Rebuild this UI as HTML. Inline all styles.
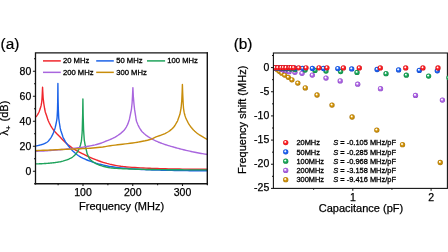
<!DOCTYPE html>
<html><head><meta charset="utf-8"><title>figure</title>
<style>
html,body{margin:0;padding:0;background:#fff;}
body{width:448px;height:252px;overflow:hidden;}
svg{display:block;}
text{font-family:"Liberation Sans", Arial, sans-serif;fill:#000;stroke:#000;stroke-width:0.25px;}
.tk{font-size:10.5px;}
.lb{font-size:11px;}
.pn{font-size:15.4px;stroke-width:0.2px;}
.lg{font-size:7.45px;stroke-width:0.3px;}
.cv{fill:none;stroke-width:1.4;stroke-linejoin:round;stroke-linecap:butt;}
.ax{stroke:#141414;fill:none;}
</style></head><body>
<svg width="448" height="252" viewBox="0 0 448 252">
<defs>
<radialGradient id="gR" cx="0.5" cy="0.5" r="0.5" fx="0.37" fy="0.33"><stop offset="0" stop-color="#fff"/><stop offset="0.17" stop-color="#fff"/><stop offset="0.36" stop-color="#ff7070"/><stop offset="0.55" stop-color="#f41c22"/><stop offset="0.8" stop-color="#f41c22"/><stop offset="1" stop-color="#cc0c12"/></radialGradient>
<radialGradient id="gB" cx="0.5" cy="0.5" r="0.5" fx="0.37" fy="0.33"><stop offset="0" stop-color="#fff"/><stop offset="0.17" stop-color="#fff"/><stop offset="0.36" stop-color="#7aa8ff"/><stop offset="0.55" stop-color="#1a5ce8"/><stop offset="0.8" stop-color="#1a5ce8"/><stop offset="1" stop-color="#0c40c0"/></radialGradient>
<radialGradient id="gG" cx="0.5" cy="0.5" r="0.5" fx="0.37" fy="0.33"><stop offset="0" stop-color="#fff"/><stop offset="0.17" stop-color="#fff"/><stop offset="0.36" stop-color="#70d4a0"/><stop offset="0.55" stop-color="#18a055"/><stop offset="0.8" stop-color="#18a055"/><stop offset="1" stop-color="#0c7c3c"/></radialGradient>
<radialGradient id="gP" cx="0.5" cy="0.5" r="0.5" fx="0.37" fy="0.33"><stop offset="0" stop-color="#fff"/><stop offset="0.17" stop-color="#fff"/><stop offset="0.36" stop-color="#d8b4f4"/><stop offset="0.55" stop-color="#a860de"/><stop offset="0.8" stop-color="#a860de"/><stop offset="1" stop-color="#8440c0"/></radialGradient>
<radialGradient id="gO" cx="0.5" cy="0.5" r="0.5" fx="0.37" fy="0.33"><stop offset="0" stop-color="#fff"/><stop offset="0.17" stop-color="#fff"/><stop offset="0.36" stop-color="#f0c868"/><stop offset="0.55" stop-color="#c88c0a"/><stop offset="0.8" stop-color="#c88c0a"/><stop offset="1" stop-color="#a06c02"/></radialGradient>
<clipPath id="ca"><rect x="35.5" y="53" width="172" height="130.6"/></clipPath>
<clipPath id="cb"><rect x="273.4" y="53" width="174" height="135.4"/></clipPath>
</defs>
<rect width="448" height="252" fill="#fff"/>
<text class="pn" x="0.5" y="48.9">(a)</text>
<g clip-path="url(#ca)">
<path class="cv" stroke="#f0262c" d="M35.50,117.00 L35.62,116.93 L35.74,116.85 L35.86,116.76 L35.98,116.66 L36.10,116.55 L36.22,116.43 L36.34,116.31 L36.46,116.17 L36.58,116.03 L36.70,115.88 L36.82,115.73 L36.94,115.56 L37.06,115.40 L37.18,115.22 L37.30,115.04 L37.42,114.86 L37.54,114.67 L37.66,114.47 L37.78,114.28 L37.90,114.08 L38.02,113.87 L38.14,113.66 L38.26,113.45 L38.38,113.24 L38.40,113.20 L38.50,113.02 L38.62,112.79 L38.74,112.54 L38.86,112.28 L38.98,112.01 L39.09,111.72 L39.21,111.42 L39.33,111.11 L39.45,110.79 L39.57,110.46 L39.69,110.12 L39.81,109.77 L39.93,109.42 L40.05,109.05 L40.17,108.68 L40.20,108.60 L40.29,108.31 L40.41,107.94 L40.53,107.57 L40.65,107.19 L40.77,106.79 L40.89,106.36 L41.01,105.90 L41.13,105.39 L41.25,104.84 L41.37,104.23 L41.49,103.55 L41.50,103.50 L41.61,102.74 L41.73,101.71 L41.85,100.48 L41.97,99.05 L42.05,98.00 L42.09,97.38 L42.21,95.03 L42.33,92.41 L42.35,92.00 L42.45,89.89 L42.57,87.30 L42.80,92.00 L43.15,98.00 L43.80,103.50 L44.60,108.50 L45.30,112.00 L45.37,112.24 L46.70,116.00 L47.80,119.60 L48.16,120.53 L49.30,123.00 L50.96,126.04 L51.90,127.60 L53.60,130.20 L53.75,130.39 L56.55,133.48 L59.34,136.24 L59.40,136.30 L62.14,139.18 L64.93,142.00 L65.70,142.70 L67.73,144.46 L70.52,146.67 L72.10,147.80 L73.32,148.61 L76.12,150.32 L78.40,151.60 L78.91,151.88 L81.71,153.30 L84.50,154.65 L84.80,154.80 L87.30,156.04 L90.00,157.30 L90.09,157.34 L92.89,158.53 L95.68,159.68 L98.48,160.76 L101.27,161.74 L103.00,162.30 L104.07,162.63 L106.86,163.44 L109.66,164.17 L112.46,164.79 L112.50,164.80 L115.25,165.34 L118.05,165.85 L120.84,166.30 L123.64,166.66 L125.00,166.80 L126.43,166.93 L129.23,167.16 L132.02,167.37 L134.82,167.56 L137.61,167.72 L140.41,167.88 L143.21,168.01 L146.00,168.14 L148.80,168.25 L150.00,168.30 L151.59,168.36 L154.39,168.46 L157.18,168.56 L159.98,168.65 L162.77,168.73 L165.57,168.81 L168.36,168.88 L171.16,168.94 L173.95,168.98 L175.00,169.00 L176.75,169.02 L179.55,169.06 L182.34,169.10 L185.14,169.14 L187.93,169.17 L190.73,169.20 L193.52,169.23 L196.32,169.25 L199.11,169.27 L201.91,169.29 L204.70,169.30 L207.50,169.30"/>
<path class="cv" stroke="#1c63e8" d="M35.50,146.00 L35.88,145.95 L36.26,145.90 L36.64,145.83 L37.02,145.77 L37.40,145.69 L37.78,145.61 L38.16,145.53 L38.54,145.44 L38.92,145.35 L39.30,145.25 L39.68,145.15 L40.06,145.05 L40.44,144.94 L40.82,144.83 L41.19,144.72 L41.57,144.61 L41.60,144.60 L41.95,144.49 L42.33,144.37 L42.71,144.25 L43.09,144.11 L43.47,143.98 L43.85,143.83 L44.23,143.67 L44.61,143.51 L44.99,143.34 L45.37,143.15 L45.75,142.95 L46.13,142.74 L46.51,142.52 L46.70,142.40 L46.89,142.27 L47.27,141.99 L47.65,141.67 L48.03,141.31 L48.41,140.91 L48.79,140.49 L49.17,140.04 L49.55,139.57 L49.93,139.07 L50.31,138.56 L50.50,138.30 L50.69,138.04 L51.07,137.46 L51.45,136.84 L51.83,136.16 L52.21,135.44 L52.58,134.68 L52.96,133.88 L53.00,133.80 L53.34,133.00 L53.72,132.01 L54.10,130.96 L54.30,130.40 L54.48,129.87 L54.86,128.71 L55.10,127.90 L55.24,127.36 L55.62,125.78 L56.00,123.99 L56.20,123.00 L56.38,122.12 L56.76,120.11 L57.00,118.30 L57.14,116.78 L57.50,110.00 L57.52,109.43 L57.72,100.00 L57.90,83.40 L58.10,100.00 L58.35,110.00 L58.75,118.30 L59.40,123.00 L60.20,127.90 L60.44,129.02 L60.80,130.50 L62.97,137.08 L63.20,137.60 L65.51,141.80 L67.00,144.00 L68.04,145.45 L70.58,148.64 L72.10,150.30 L73.11,151.32 L75.65,153.60 L77.20,154.80 L78.18,155.49 L80.72,157.06 L82.30,157.90 L83.26,158.36 L85.79,159.48 L88.33,160.48 L90.00,161.10 L90.86,161.41 L93.40,162.30 L95.93,163.14 L98.47,163.89 L100.00,164.30 L101.01,164.55 L103.54,165.16 L106.08,165.72 L108.61,166.23 L111.15,166.67 L112.00,166.80 L113.68,167.04 L116.22,167.38 L118.75,167.68 L121.29,167.96 L123.83,168.20 L125.00,168.30 L126.36,168.42 L128.90,168.63 L131.43,168.83 L133.97,169.03 L136.50,169.21 L139.04,169.38 L141.57,169.54 L144.11,169.67 L146.65,169.79 L149.18,169.88 L150.00,169.90 L151.72,169.95 L154.25,170.01 L156.79,170.08 L159.32,170.14 L161.86,170.20 L164.39,170.26 L166.93,170.32 L169.47,170.37 L172.00,170.42 L174.54,170.47 L177.07,170.52 L179.61,170.56 L182.14,170.60 L184.68,170.64 L187.22,170.67 L189.75,170.70 L192.29,170.73 L194.82,170.75 L197.36,170.77 L199.89,170.78 L202.43,170.79 L204.96,170.80 L207.50,170.80"/>
<path class="cv" stroke="#1fa35c" d="M35.50,163.90 L36.30,163.89 L37.11,163.87 L37.91,163.85 L38.71,163.83 L39.52,163.80 L40.32,163.76 L41.12,163.72 L41.93,163.68 L42.73,163.64 L43.53,163.60 L44.34,163.55 L45.14,163.50 L45.94,163.45 L46.70,163.40 L46.75,163.40 L47.55,163.34 L48.35,163.28 L49.16,163.22 L49.96,163.15 L50.76,163.07 L51.57,162.99 L52.37,162.90 L53.17,162.81 L53.98,162.71 L54.78,162.60 L55.58,162.49 L56.39,162.38 L57.19,162.26 L57.99,162.13 L58.80,162.00 L59.40,161.90 L59.60,161.86 L60.41,161.71 L61.21,161.54 L62.01,161.35 L62.82,161.14 L63.62,160.91 L64.42,160.67 L65.23,160.41 L66.03,160.14 L66.83,159.86 L67.00,159.80 L67.64,159.56 L68.44,159.24 L69.24,158.88 L70.05,158.48 L70.85,158.05 L71.65,157.58 L72.10,157.30 L72.46,157.06 L73.26,156.47 L74.06,155.78 L74.87,155.01 L75.67,154.16 L75.90,153.90 L76.47,153.19 L77.28,152.04 L78.08,150.69 L78.40,150.10 L78.88,149.15 L79.69,147.29 L80.40,145.20 L80.49,144.90 L81.29,141.48 L81.55,139.80 L82.10,133.00 L82.25,130.00 L82.65,115.00 L82.90,98.90 L83.15,115.00 L83.60,130.00 L84.25,139.80 L85.01,144.34 L85.50,146.50 L87.12,153.58 L87.30,154.10 L89.24,158.27 L90.00,159.30 L91.35,160.64 L93.46,162.23 L95.57,163.41 L96.25,163.75 L97.68,164.41 L99.79,165.26 L101.91,165.95 L103.00,166.25 L104.02,166.51 L106.13,167.03 L108.24,167.48 L110.35,167.83 L112.00,168.00 L112.47,168.04 L114.58,168.19 L116.69,168.33 L118.80,168.46 L120.91,168.59 L123.03,168.70 L125.14,168.80 L127.25,168.90 L129.36,168.99 L131.47,169.07 L133.58,169.14 L135.70,169.21 L137.81,169.27 L139.92,169.32 L142.03,169.37 L144.14,169.41 L146.26,169.45 L148.37,169.48 L150.00,169.50 L150.48,169.51 L152.59,169.53 L154.70,169.56 L156.82,169.58 L158.93,169.61 L161.04,169.63 L163.15,169.65 L165.26,169.67 L167.37,169.69 L169.49,169.71 L171.60,169.73 L173.71,169.75 L175.82,169.77 L177.93,169.78 L180.05,169.80 L182.16,169.81 L184.27,169.83 L186.38,169.84 L188.49,169.85 L190.61,169.86 L192.72,169.87 L194.83,169.88 L196.94,169.88 L199.05,169.89 L201.16,169.89 L203.28,169.90 L205.39,169.90 L207.50,169.90"/>
<path class="cv" stroke="#a966de" d="M35.50,151.25 L37.15,151.21 L38.80,151.16 L40.45,151.09 L42.10,151.02 L43.75,150.94 L45.41,150.85 L47.06,150.75 L48.71,150.64 L50.36,150.53 L52.01,150.41 L53.66,150.28 L55.31,150.14 L56.96,150.00 L58.61,149.86 L60.26,149.71 L61.91,149.55 L63.56,149.39 L65.22,149.23 L66.87,149.06 L68.52,148.89 L70.17,148.72 L71.82,148.54 L73.47,148.36 L75.00,148.20 L75.12,148.19 L76.77,148.00 L78.42,147.79 L80.07,147.56 L81.72,147.32 L83.37,147.07 L85.03,146.79 L86.68,146.51 L88.33,146.21 L89.98,145.90 L90.00,145.90 L91.63,145.58 L93.28,145.23 L94.93,144.86 L96.58,144.45 L98.23,144.01 L99.88,143.54 L100.00,143.50 L101.53,142.97 L103.18,142.31 L104.84,141.61 L106.30,141.00 L106.49,140.93 L108.14,140.29 L109.79,139.66 L111.44,138.98 L112.70,138.40 L113.09,138.21 L114.74,137.33 L116.39,136.35 L118.04,135.27 L119.00,134.60 L119.69,134.10 L121.34,132.84 L122.99,131.37 L124.10,130.20 L124.65,129.53 L126.30,127.01 L127.30,125.10 L127.95,123.65 L129.20,120.00 L129.60,118.42 L130.60,113.50 L131.25,110.35 L131.50,108.80 L132.10,103.00 L132.50,96.00 L132.90,87.60 L133.30,96.00 L133.90,103.00 L134.16,105.75 L134.60,109.70 L135.43,114.95 L135.50,115.40 L136.20,120.00 L136.69,121.75 L137.96,124.80 L138.10,125.10 L139.22,127.32 L140.49,129.48 L141.75,131.22 L141.90,131.40 L143.02,132.61 L144.28,133.79 L145.54,134.82 L146.81,135.76 L147.00,135.90 L148.07,136.65 L149.34,137.47 L150.60,138.23 L151.87,138.94 L153.13,139.61 L153.30,139.70 L154.39,140.25 L155.66,140.86 L156.92,141.43 L158.19,141.98 L159.45,142.49 L160.00,142.70 L160.72,142.97 L161.98,143.44 L163.25,143.88 L164.51,144.32 L165.77,144.74 L167.04,145.15 L168.30,145.55 L169.57,145.93 L170.83,146.31 L172.10,146.68 L173.36,147.04 L174.63,147.40 L175.00,147.50 L175.89,147.75 L177.15,148.09 L178.42,148.42 L179.68,148.76 L180.95,149.08 L182.21,149.40 L183.48,149.71 L184.74,150.01 L186.01,150.31 L187.27,150.61 L188.53,150.89 L189.80,151.17 L191.06,151.45 L192.33,151.71 L192.50,151.75 L193.59,151.98 L194.86,152.23 L196.12,152.48 L197.38,152.73 L198.65,152.97 L199.91,153.21 L201.18,153.44 L202.44,153.66 L203.71,153.88 L204.97,154.09 L206.24,154.30 L207.50,154.50"/>
<path class="cv" stroke="#c88d0b" d="M35.50,150.60 L37.99,150.50 L40.48,150.40 L42.97,150.29 L45.46,150.19 L47.95,150.08 L50.44,149.98 L52.93,149.87 L55.42,149.77 L57.91,149.66 L60.40,149.55 L62.89,149.44 L65.38,149.33 L67.87,149.22 L70.36,149.11 L72.85,149.00 L75.00,148.90 L75.34,148.88 L77.83,148.78 L80.32,148.68 L82.81,148.57 L85.30,148.46 L87.79,148.33 L90.00,148.20 L90.28,148.18 L92.77,148.00 L95.26,147.79 L97.75,147.54 L100.00,147.30 L100.24,147.27 L102.73,146.95 L105.22,146.57 L107.71,146.16 L110.19,145.76 L112.68,145.40 L112.70,145.40 L115.17,145.09 L117.66,144.80 L120.15,144.52 L122.64,144.24 L125.13,143.93 L125.40,143.90 L127.62,143.61 L130.11,143.29 L132.60,142.95 L135.09,142.59 L137.58,142.19 L138.10,142.10 L140.07,141.76 L142.56,141.30 L145.05,140.80 L147.54,140.22 L150.03,139.53 L150.80,139.30 L152.52,138.60 L155.01,137.34 L156.00,136.90 L157.50,136.35 L159.99,135.54 L162.30,134.70 L162.48,134.63 L164.97,133.54 L167.46,132.25 L168.70,131.50 L169.95,130.63 L172.44,128.47 L173.80,127.00 L174.93,125.51 L177.42,121.08 L177.60,120.70 L179.90,114.30 L179.91,114.26 L181.10,108.00 L181.80,100.00 L182.15,92.00 L182.40,84.40 L182.65,92.00 L182.83,96.33 L183.00,100.00 L183.25,104.64 L183.50,108.00 L183.68,109.46 L184.10,112.14 L184.53,114.02 L184.60,114.30 L184.95,115.53 L185.38,116.81 L185.80,117.91 L186.23,118.89 L186.65,119.79 L187.08,120.66 L187.10,120.70 L187.51,121.51 L187.93,122.33 L188.36,123.10 L188.78,123.84 L189.21,124.55 L189.63,125.22 L190.06,125.85 L190.48,126.45 L190.90,127.00 L190.91,127.01 L191.33,127.55 L191.76,128.06 L192.18,128.56 L192.61,129.04 L193.04,129.50 L193.46,129.95 L193.89,130.38 L194.31,130.79 L194.74,131.20 L195.16,131.58 L195.59,131.96 L196.01,132.32 L196.44,132.67 L196.60,132.80 L196.86,133.01 L197.29,133.34 L197.72,133.65 L198.14,133.96 L198.57,134.25 L198.99,134.54 L199.42,134.82 L199.84,135.09 L200.27,135.36 L200.69,135.62 L201.12,135.88 L201.54,136.13 L201.97,136.39 L202.39,136.64 L202.82,136.89 L203.00,137.00 L203.25,137.15 L203.67,137.40 L204.10,137.64 L204.52,137.89 L204.95,138.13 L205.37,138.37 L205.80,138.60 L206.22,138.83 L206.65,139.06 L207.07,139.28 L207.50,139.50"/>
</g>
<path class="ax" stroke-width="1.3" stroke-linecap="square" d="M35.5,183.8 V52.9 H207.3"/>
<path class="ax" stroke-width="1.5" stroke-linecap="square" d="M35.5,183.8 H207.3"/>
<path class="ax" stroke-width="1.4" stroke-linecap="square" d="M207.3,183.8 V52.9"/>
<path class="ax" stroke-width="1.1" d="M83.00,183.8 v2.2 M132.75,183.8 v2.2 M182.50,183.8 v2.2 M58.12,183.8 v1.5 M107.88,183.8 v1.5 M157.62,183.8 v1.5 M207.38,183.8 v1.5 M35.5,171.20 h-2.6 M35.5,146.20 h-2.6 M35.5,121.20 h-2.6 M35.5,96.20 h-2.6 M35.5,71.20 h-2.6 M35.5,183.70 h-1.5 M35.5,158.70 h-1.5 M35.5,133.70 h-1.5 M35.5,108.70 h-1.5 M35.5,83.70 h-1.5 M35.5,58.70 h-1.5 "/>
<text class="tk" x="83.00" y="196.4" text-anchor="middle">100</text>
<text class="tk" x="132.75" y="196.4" text-anchor="middle">200</text>
<text class="tk" x="182.50" y="196.4" text-anchor="middle">300</text>
<text class="tk" x="31.3" y="174.70" text-anchor="end">0</text>
<text class="tk" x="31.3" y="149.70" text-anchor="end">20</text>
<text class="tk" x="31.3" y="124.70" text-anchor="end">40</text>
<text class="tk" x="31.3" y="99.70" text-anchor="end">60</text>
<text class="tk" x="31.3" y="74.70" text-anchor="end">80</text>
<text class="lb" x="121.6" y="209.6" text-anchor="middle">Frequency (MHz)</text>
<text class="lb" transform="translate(8.3,118.1) rotate(-90)" text-anchor="middle">λ<tspan font-size="7.5" dy="3.1">+</tspan><tspan dy="-3.1" dx="1.2"> (dB)</tspan></text>
<line x1="43" y1="60.9" x2="60.8" y2="60.9" stroke="#f0262c" stroke-width="1.5"/>
<text class="lg" style="font-size:7.65px" x="63" y="63.35">20 MHz</text>
<line x1="96.2" y1="60.9" x2="113.8" y2="60.9" stroke="#1c63e8" stroke-width="1.5"/>
<text class="lg" style="font-size:7.65px" x="116.2" y="63.35">50 MHz</text>
<line x1="147" y1="60.9" x2="165.1" y2="60.9" stroke="#1fa35c" stroke-width="1.5"/>
<text class="lg" style="font-size:7.65px" x="167.3" y="63.35">100 MHz</text>
<line x1="43" y1="72.35" x2="60.8" y2="72.35" stroke="#a966de" stroke-width="1.5"/>
<text class="lg" style="font-size:7.65px" x="63" y="74.80">200 MHz</text>
<line x1="96.2" y1="72.35" x2="113.8" y2="72.35" stroke="#c88d0b" stroke-width="1.5"/>
<text class="lg" style="font-size:7.65px" x="116.2" y="74.80">300 MHz</text>
<text class="pn" x="233.7" y="48.9">(b)</text>
<g clip-path="url(#cb)">
<circle cx="275.2" cy="68.3" r="2.65" fill="url(#gO)"/>
<circle cx="277.5" cy="69.8" r="2.65" fill="url(#gO)"/>
<circle cx="279.7" cy="71.5" r="2.65" fill="url(#gO)"/>
<circle cx="281.9" cy="73.2" r="2.65" fill="url(#gO)"/>
<circle cx="284.7" cy="75.1" r="2.65" fill="url(#gO)"/>
<circle cx="288.3" cy="77.3" r="2.65" fill="url(#gO)"/>
<circle cx="291.9" cy="79.8" r="2.65" fill="url(#gO)"/>
<circle cx="297.8" cy="83.1" r="2.65" fill="url(#gO)"/>
<circle cx="305.3" cy="87.9" r="2.65" fill="url(#gO)"/>
<circle cx="317.05" cy="95" r="2.65" fill="url(#gO)"/>
<circle cx="332" cy="105.1" r="2.65" fill="url(#gO)"/>
<circle cx="352.1" cy="117" r="2.65" fill="url(#gO)"/>
<circle cx="376.8" cy="130.1" r="2.65" fill="url(#gO)"/>
<circle cx="402.5" cy="144.7" r="2.65" fill="url(#gO)"/>
<circle cx="440.25" cy="162.5" r="2.65" fill="url(#gO)"/>
<circle cx="275.2" cy="67.9" r="2.65" fill="url(#gP)"/>
<circle cx="277.7" cy="68.4" r="2.65" fill="url(#gP)"/>
<circle cx="280.9" cy="69.2" r="2.65" fill="url(#gP)"/>
<circle cx="283.4" cy="69.9" r="2.65" fill="url(#gP)"/>
<circle cx="286" cy="70.7" r="2.65" fill="url(#gP)"/>
<circle cx="289.1" cy="71.7" r="2.65" fill="url(#gP)"/>
<circle cx="294.9" cy="72.3" r="2.65" fill="url(#gP)"/>
<circle cx="302" cy="73.3" r="2.65" fill="url(#gP)"/>
<circle cx="312.3" cy="75.1" r="2.65" fill="url(#gP)"/>
<circle cx="326" cy="78.1" r="2.65" fill="url(#gP)"/>
<circle cx="340.2" cy="80.9" r="2.65" fill="url(#gP)"/>
<circle cx="357.7" cy="84.2" r="2.65" fill="url(#gP)"/>
<circle cx="380.5" cy="88.7" r="2.65" fill="url(#gP)"/>
<circle cx="415.5" cy="95.4" r="2.65" fill="url(#gP)"/>
<circle cx="442.4" cy="100.1" r="2.65" fill="url(#gP)"/>
<circle cx="275.2" cy="67.7" r="2.65" fill="url(#gG)"/>
<circle cx="278" cy="67.9" r="2.65" fill="url(#gG)"/>
<circle cx="281" cy="68.2" r="2.65" fill="url(#gG)"/>
<circle cx="284" cy="68.5" r="2.65" fill="url(#gG)"/>
<circle cx="287" cy="68.8" r="2.65" fill="url(#gG)"/>
<circle cx="290.5" cy="69.1" r="2.65" fill="url(#gG)"/>
<circle cx="295" cy="69.5" r="2.65" fill="url(#gG)"/>
<circle cx="305.1" cy="70" r="2.65" fill="url(#gG)"/>
<circle cx="315" cy="70.4" r="2.65" fill="url(#gG)"/>
<circle cx="326" cy="71" r="2.65" fill="url(#gG)"/>
<circle cx="340.6" cy="71.6" r="2.65" fill="url(#gG)"/>
<circle cx="357" cy="72.4" r="2.65" fill="url(#gG)"/>
<circle cx="386" cy="73.7" r="2.65" fill="url(#gG)"/>
<circle cx="406.3" cy="75.2" r="2.65" fill="url(#gG)"/>
<circle cx="428.6" cy="76.1" r="2.65" fill="url(#gG)"/>
<circle cx="275" cy="67.7" r="2.65" fill="url(#gB)"/>
<circle cx="277.5" cy="67.8" r="2.65" fill="url(#gB)"/>
<circle cx="280.5" cy="67.9" r="2.65" fill="url(#gB)"/>
<circle cx="283.5" cy="68" r="2.65" fill="url(#gB)"/>
<circle cx="286.5" cy="68" r="2.65" fill="url(#gB)"/>
<circle cx="290" cy="68.1" r="2.65" fill="url(#gB)"/>
<circle cx="295" cy="68.2" r="2.65" fill="url(#gB)"/>
<circle cx="302.5" cy="68.3" r="2.65" fill="url(#gB)"/>
<circle cx="312.4" cy="68.4" r="2.65" fill="url(#gB)"/>
<circle cx="323.5" cy="68.5" r="2.65" fill="url(#gB)"/>
<circle cx="337.8" cy="68.6" r="2.65" fill="url(#gB)"/>
<circle cx="351.7" cy="68.9" r="2.65" fill="url(#gB)"/>
<circle cx="377.1" cy="69.5" r="2.65" fill="url(#gB)"/>
<circle cx="398.6" cy="69.9" r="2.65" fill="url(#gB)"/>
<circle cx="419.3" cy="70.4" r="2.65" fill="url(#gB)"/>
<circle cx="437.3" cy="70.8" r="2.65" fill="url(#gB)"/>
<circle cx="275.2" cy="67.7" r="2.65" fill="url(#gR)"/>
<circle cx="277.7" cy="67.7" r="2.65" fill="url(#gR)"/>
<circle cx="280.9" cy="67.7" r="2.65" fill="url(#gR)"/>
<circle cx="283.4" cy="67.7" r="2.65" fill="url(#gR)"/>
<circle cx="286" cy="67.7" r="2.65" fill="url(#gR)"/>
<circle cx="289.1" cy="67.7" r="2.65" fill="url(#gR)"/>
<circle cx="291" cy="67.7" r="2.65" fill="url(#gR)"/>
<circle cx="293.6" cy="67.7" r="2.65" fill="url(#gR)"/>
<circle cx="298.7" cy="67.8" r="2.65" fill="url(#gR)"/>
<circle cx="306" cy="67.8" r="2.65" fill="url(#gR)"/>
<circle cx="319" cy="67.8" r="2.65" fill="url(#gR)"/>
<circle cx="326.9" cy="67.8" r="2.65" fill="url(#gR)"/>
<circle cx="343.4" cy="67.9" r="2.65" fill="url(#gR)"/>
<circle cx="359.3" cy="67.9" r="2.65" fill="url(#gR)"/>
<circle cx="380.3" cy="67.9" r="2.65" fill="url(#gR)"/>
<circle cx="405.7" cy="67.9" r="2.65" fill="url(#gR)"/>
<circle cx="422.9" cy="67.9" r="2.65" fill="url(#gR)"/>
<circle cx="438" cy="68" r="2.65" fill="url(#gR)"/>
</g>
<rect class="ax" x="273.4" y="53.0" width="174.0" height="135.4" stroke-width="1.1" stroke="#2a2a2a"/>
<circle cx="448.9" cy="77.8" r="2.65" fill="url(#gG)"/>
<path class="ax" stroke-width="1" stroke="#2a2a2a" d="M352.80,188.4 v2.4 M431.10,188.4 v2.4 M313.65,188.4 v1.4 M391.95,188.4 v1.4 M273.4,67.60 h-2.4 M273.4,91.76 h-2.4 M273.4,115.92 h-2.4 M273.4,140.08 h-2.4 M273.4,164.24 h-2.4 M273.4,188.40 h-2.4 M273.4,55.52 h-1.4 M273.4,79.68 h-1.4 M273.4,103.84 h-1.4 M273.4,128.00 h-1.4 M273.4,152.16 h-1.4 M273.4,176.32 h-1.4 "/>
<text class="tk" x="352.80" y="201.1" text-anchor="middle">1</text>
<text class="tk" x="431.10" y="201.1" text-anchor="middle">2</text>
<text class="tk" x="269.3" y="70.80" text-anchor="end">0</text>
<text class="tk" x="269.3" y="94.86" text-anchor="end">-5</text>
<text class="tk" x="269.3" y="118.62" text-anchor="end">-10</text>
<text class="tk" x="269.3" y="142.78" text-anchor="end">-15</text>
<text class="tk" x="269.3" y="166.94" text-anchor="end">-20</text>
<text class="tk" x="269.3" y="190.50" text-anchor="end">-25</text>
<text class="lb" x="361" y="211.9" text-anchor="middle">Capacitance (pF)</text>
<text class="lb" transform="translate(246.4,119.8) rotate(-90)" text-anchor="middle">Frequency shift (MHz)</text>
<circle cx="285.7" cy="142.60" r="2.65" fill="url(#gR)"/>
<text class="lg" x="296.4" y="145.30">20MHz</text>
<text class="lg" x="333.3" y="145.30"><tspan font-style="italic">S</tspan> = -0.105 MHz/pF</text>
<circle cx="285.7" cy="151.87" r="2.65" fill="url(#gB)"/>
<text class="lg" x="296.4" y="154.57">50MHz</text>
<text class="lg" x="333.3" y="154.57"><tspan font-style="italic">S</tspan> = -0.285 MHz/pF</text>
<circle cx="285.7" cy="161.14" r="2.65" fill="url(#gG)"/>
<text class="lg" x="296.4" y="163.84">100MHz</text>
<text class="lg" x="333.3" y="163.84"><tspan font-style="italic">S</tspan> = -0.968 MHz/pF</text>
<circle cx="285.7" cy="170.41" r="2.65" fill="url(#gP)"/>
<text class="lg" x="296.4" y="173.11">200MHz</text>
<text class="lg" x="333.3" y="173.11"><tspan font-style="italic">S</tspan> = -3.158 MHz/pF</text>
<circle cx="285.7" cy="179.68" r="2.65" fill="url(#gO)"/>
<text class="lg" x="296.4" y="182.38">300MHz</text>
<text class="lg" x="333.3" y="182.38"><tspan font-style="italic">S</tspan> = -9.416 MHz/pF</text>
</svg></body></html>
